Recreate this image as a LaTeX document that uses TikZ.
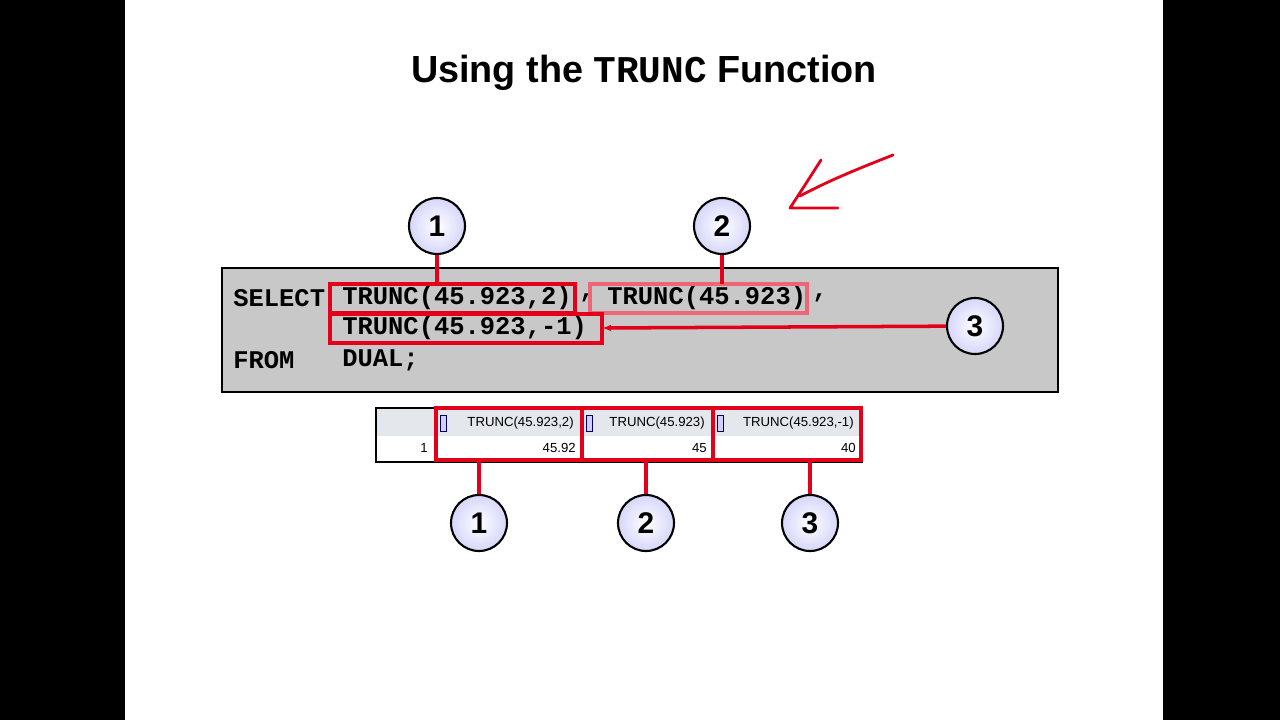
\documentclass[tikz,border=0pt]{standalone}
\usepackage{fontspec}
\setmainfont{Liberation Sans}
\setmonofont{Liberation Mono}
\usetikzlibrary{positioning,calc,arrows.meta}
\definecolor{codegray}{RGB}{200,200,200}
\definecolor{hdrgray}{RGB}{228,231,236}
\definecolor{markred}{RGB}{226,0,26}
\definecolor{ballfill}{RGB}{214,214,250}
\tikzset{
code/.style = {anchor=west, inner sep=0pt, font=\ttfamily\bfseries\fontsize{14.5}{16}\selectfont},
redbox/.style = {draw=markred, line width=2pt},
ball/.style = {draw, circle, line width=1.2pt, minimum size=1.12cm, inner sep=0pt, inner color=white, outer color=ballfill, font=\bfseries\fontsize{17}{18}\selectfont},
cell/.style = {anchor=east, inner sep=0pt, font=\fontsize{7.5}{9}\selectfont},
link/.style = {markred, line width=2pt}
}
\begin{document}
\begin{tikzpicture}[x=0.02cm, y=-0.02cm]
    \fill[black] (0,0) rectangle (1280,720);
    \fill[white] (125,0) rectangle (1163,720);
    \useasboundingbox (0,0) rectangle (1280,720);
    % title
    \node (title) at (644,73) {\bfseries\fontsize{21.5}{24}\selectfont Using the \texttt{TRUNC} Function};
    % code box
    \draw[fill=codegray, line width=1.6pt] (222,268) rectangle (1058,392);
    \node[code] (sel) at (233,298) {SELECT};
    \node[code] (t1) at (342,298) {TRUNC(45.923,2)};
    \node[code] at (579,298) {,};
    \node[code] (t2) at (607,298) {TRUNC(45.923)};
    \node[code] at (812,298) {,};
    \node[code] (t3) at (342,328) {TRUNC(45.923,-1)};
    \node[code] (from) at (233,360) {FROM};
    \node[code] (dual) at (342,360) {DUAL;};
    \draw[redbox] (330,284) rectangle (575,313);
    \draw[redbox, draw=markred!60] (590,284) rectangle (807,313);
    \draw[redbox] (330,314) rectangle (602,343);
    % callouts on the code
    \node[ball] (c1) at (437,226) {1};
    \node[ball] (c2) at (722,226) {2};
    \node[ball] (c3) at (975,326) {3};
    \coordinate (b1top) at (437,284);
    \coordinate (b2top) at (722,284);
    \coordinate (b3end) at (602,328);
    \draw[link] (c1) -- (b1top);
    \draw[link] (c2) -- (b2top);
    \draw[link, -{Latex[length=5pt]}] (c3) -- (b3end);
    % result table
    \draw[fill=hdrgray, draw=none] (376,408) rectangle (862,436);
    \draw[fill=white, draw=none] (376,436) rectangle (862,462);
    \draw[line width=1pt] (376,408) rectangle (862,462);
    \foreach \x in {436,582,713} \draw[gray!60] (\x,408) -- (\x,436);
    \node[cell] at (574,423) {TRUNC(45.923,2)};
    \node[cell] at (705,423) {TRUNC(45.923)};
    \node[cell] at (854,423) {TRUNC(45.923,-1)};
    \foreach \x in {443,589,720}
        \draw[fill=hdrgray!60!blue!40, draw=blue!40!black, line width=0.4pt] (\x-3,415) rectangle (\x+3,431);
    \node[cell] at (428,448) {1};
    \node[cell] at (576,448) {45.92};
    \node[cell] at (707,448) {45};
    \node[cell] at (856,448) {40};
    \draw[redbox] (436,408) rectangle (582,460);
    \draw[redbox] (582,408) rectangle (713,460);
    \draw[redbox] (713,408) rectangle (861,460);
    % callouts on the table
    \node[ball] (d1) at (479,523) {1};
    \node[ball] (d2) at (646,523) {2};
    \node[ball] (d3) at (810,523) {3};
    \foreach \n/\x in {d1/479,d2/646,d3/810} {
        \coordinate (\n top) at (\x,460);
        \draw[link] (\n) -- (\n top);
    }
    % hand drawn arrow
    \draw[markred, line width=1.6pt, line cap=round] (893,155) .. controls (860,168) and (830,180) .. (800,196);
    \draw[markred, line width=1.6pt, line cap=round, line join=round] (821,160) .. controls (805,185) .. (790,208) -- (838,208);
\end{tikzpicture}
\end{document}
